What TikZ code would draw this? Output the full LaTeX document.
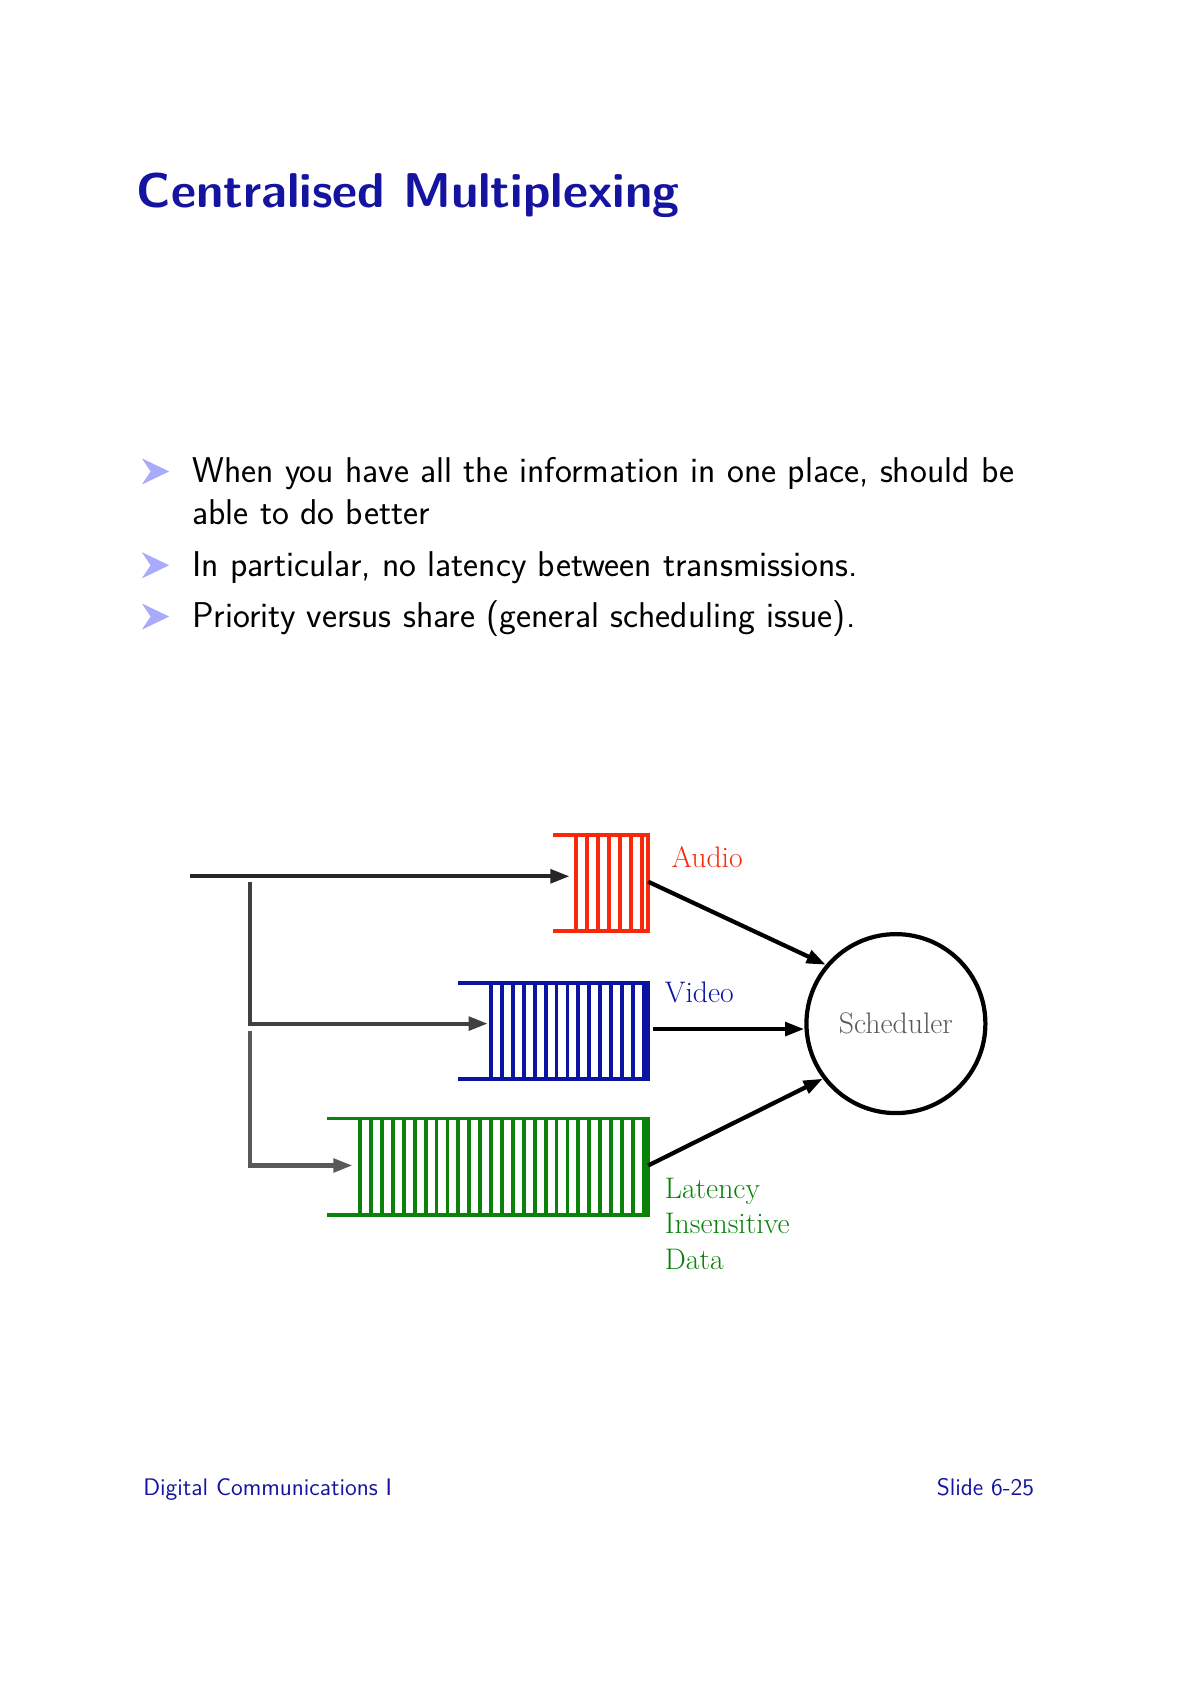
\documentclass[tikz,border=0pt]{standalone}
\usetikzlibrary{arrows.meta}
\definecolor{ttl}{RGB}{20,20,160}
\definecolor{bul}{RGB}{170,170,250}
\definecolor{qred}{RGB}{250,40,10}
\definecolor{qblue}{RGB}{10,20,160}
\definecolor{qgreen}{RGB}{10,130,10}
\begin{document}
\begin{tikzpicture}[x=0.02cm,y=-0.02cm,
  btxt/.style={anchor=base west,inner sep=0,font=\sffamily\fontsize{18.7}{23}\selectfont},
  lab/.style={anchor=base west,inner sep=0,font=\rmfamily\fontsize{15.5}{19}\selectfont},
  arr/.style={line width=2.2pt,-{Triangle[length=10pt,width=7pt]}},
  qline/.style={line width=2pt},
  bar/.style={line width=2pt}]
\useasboundingbox (0,0) rectangle (1100,1556);
\node[anchor=base west,inner sep=0,text=ttl,font=\sffamily\bfseries\fontsize{25.5}{30}\selectfont] (title) at (125,190) {Centralised Multiplexing};
\foreach \y in {432,518,565}{
  \fill[bul] (130,\y-12) -- (155,\y) -- (130,\y+12) -- (138,\y) -- cycle;}
\node[btxt] (b1) at (176,442) {When you have all the information in one place, should be};
\node[btxt] (b1b) at (176,481) {able to do better};
\node[btxt] (b2) at (176,528) {In particular, no latency between transmissions.};
\node[btxt] (b3) at (176,575) {Priority versus share (general scheduling issue).};
\node[anchor=base west,inner sep=0,text=ttl,font=\sffamily\fontsize{12.5}{15}\selectfont] (f1) at (131,1370) {Digital Communications I};
\node[anchor=base east,inner sep=0,text=ttl,font=\sffamily\fontsize{12.5}{15}\selectfont] (f2) at (948,1370) {Slide 6-25};
% queues
\draw[qline,qred] (507,765) -- (594,765) -- (594,853) -- (507,853);
\foreach \i in {0,...,6} \draw[bar,qred] (528+\i*10,765) -- (528+\i*10,853);
\draw[qline,qblue] (420,901) -- (594,901) -- (594,989) -- (420,989);
\foreach \i in {0,...,14} \draw[bar,qblue] (450+\i*10,901) -- (450+\i*10,989);
\draw[qline,qgreen] (300,1025) -- (594,1025) -- (594,1113) -- (300,1113);
\foreach \i in {0,...,26} \draw[bar,qgreen] (330+\i*10,1025) -- (330+\i*10,1113);
\coordinate (qa) at (522,803);
\coordinate (qv) at (447,938);
\coordinate (qg) at (323,1068);
\node[circle,draw,line width=2.2pt,minimum size=164*0.02cm,inner sep=0,text=black!65,font=\rmfamily\fontsize{15.5}{19}\selectfont] (sch) at (821,938) {Scheduler};
\coordinate (in) at (174,803);
\draw[arr,black!85] (in) -- (qa);
\draw[arr,black!75] (229,808) -- (229,938) -- (qv);
\draw[arr,black!65] (229,945) -- (229,1068) -- (qg);
\draw[arr] (594,808) -- (sch.140);
\draw[arr] (598,943) -- (sch.west|-598,943);
\draw[arr] (594,1068) -- (sch.217);
\node[lab,text=qred] (la) at (615,795) {Audio};
\node[lab,text=qblue] (lv) at (609,919) {Video};
\node[lab,text=qgreen,align=left,anchor=north west,font=\rmfamily\fontsize{15.5}{18.5}\selectfont] (lg) at (609,1079) {Latency\\Insensitive\\Data};
\end{tikzpicture}
\end{document}
